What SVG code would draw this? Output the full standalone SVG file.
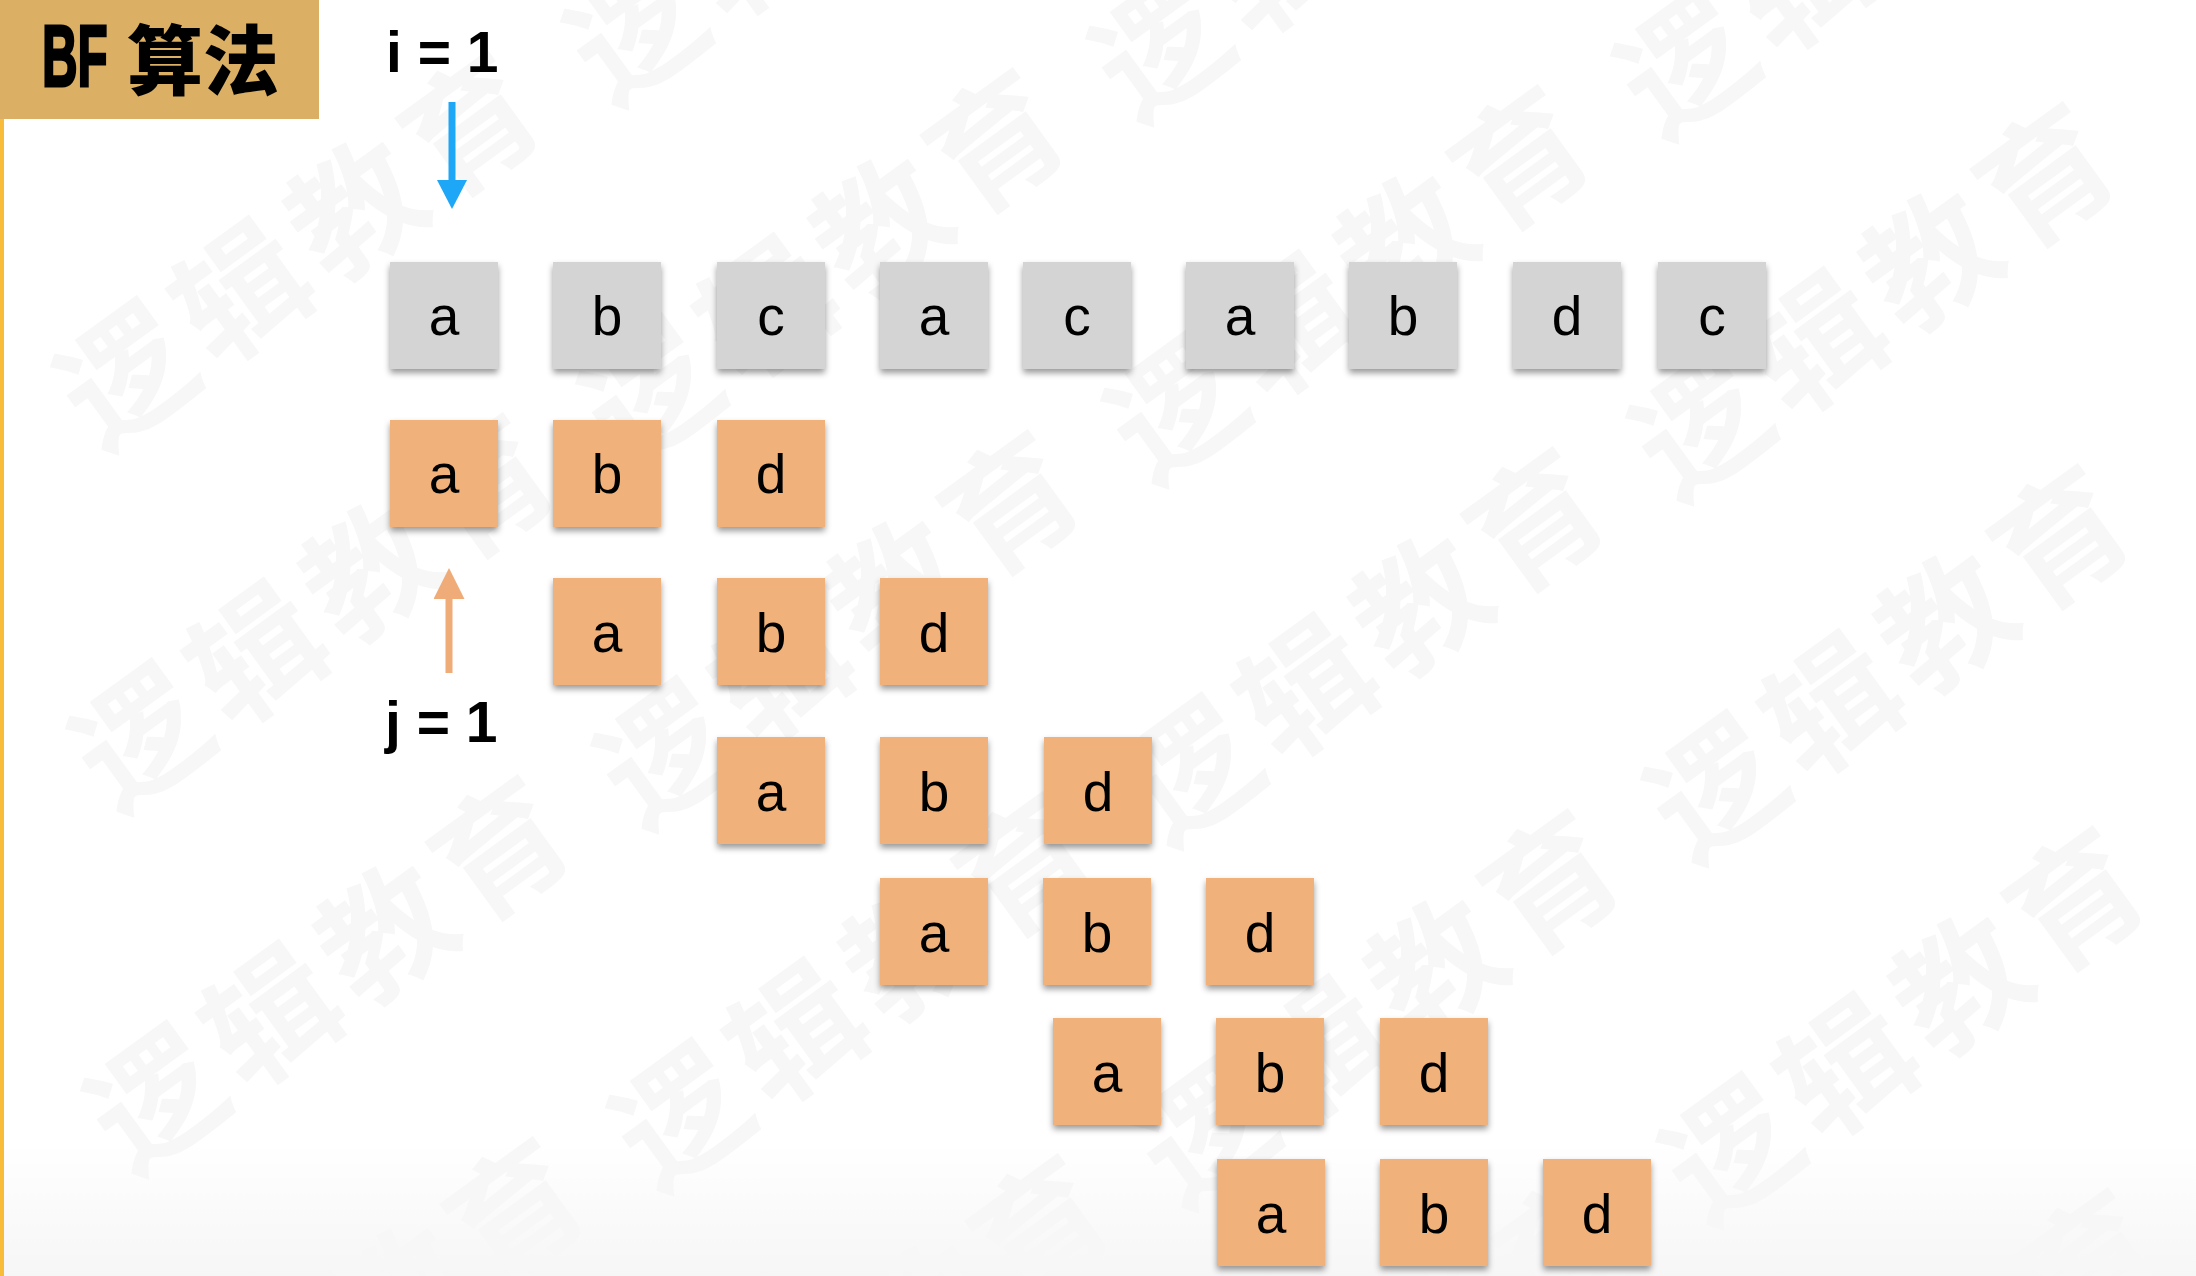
<svg xmlns="http://www.w3.org/2000/svg" width="2196" height="1276" viewBox="0 0 2196 1276">
<style>
.wm{font-family:"Noto Sans CJK SC","Noto Sans CJK JP",sans-serif;font-weight:700;font-size:130px;letter-spacing:12px;fill:#f7f7f7}
.g rect{fill:#d4d4d4;filter:url(#sh)}
.o rect{fill:#f0b27a;filter:url(#sh)}
.n text{font-family:"Liberation Sans",Arial,Helvetica,sans-serif;font-size:55px;fill:#000;text-anchor:middle}
.lbl{font-family:"Liberation Sans",Arial,Helvetica,sans-serif;font-weight:700;font-size:57px;fill:#000}
</style>
<defs>
<filter id="sh" x="-20%" y="-20%" width="140%" height="150%">
<feDropShadow dx="0" dy="4" stdDeviation="3" flood-color="#000" flood-opacity="0.4"/>
</filter>
<linearGradient id="bot" x1="0" y1="0" x2="0" y2="1">
<stop offset="0" stop-color="#000" stop-opacity="0"/>
<stop offset="1" stop-color="#000" stop-opacity="0.035"/>
</linearGradient>
<marker id="hb" markerUnits="userSpaceOnUse" markerWidth="30" markerHeight="30" viewBox="0 0 30 30" refX="1" refY="15" orient="auto">
<path d="M0,0 L29,15 L0,30 z" fill="#1ea6f7"/>
</marker>
<marker id="ho" markerUnits="userSpaceOnUse" markerWidth="32" markerHeight="32" viewBox="0 0 32 32" refX="1" refY="15.5" orient="auto">
<path d="M0,0 L31,15.5 L0,31 z" fill="#efab78"/>
</marker>
</defs>
<rect x="0" y="0" width="2196" height="1276" fill="#fff"/>
<rect x="0" y="1140" width="2196" height="136" fill="url(#bot)"/>
<g id="watermark">
<text class="wm" transform="translate(612,108) rotate(-36)">逻辑教育</text>
<text class="wm" transform="translate(1137,125) rotate(-36)">逻辑教育</text>
<text class="wm" transform="translate(1662,142) rotate(-36)">逻辑教育</text>
<text class="wm" transform="translate(102,453) rotate(-36)">逻辑教育</text>
<text class="wm" transform="translate(627,470) rotate(-36)">逻辑教育</text>
<text class="wm" transform="translate(1152,487) rotate(-36)">逻辑教育</text>
<text class="wm" transform="translate(1677,504) rotate(-36)">逻辑教育</text>
<text class="wm" transform="translate(117,815) rotate(-36)">逻辑教育</text>
<text class="wm" transform="translate(642,832) rotate(-36)">逻辑教育</text>
<text class="wm" transform="translate(1167,849) rotate(-36)">逻辑教育</text>
<text class="wm" transform="translate(1692,866) rotate(-36)">逻辑教育</text>
<text class="wm" transform="translate(132,1177) rotate(-36)">逻辑教育</text>
<text class="wm" transform="translate(657,1194) rotate(-36)">逻辑教育</text>
<text class="wm" transform="translate(1182,1211) rotate(-36)">逻辑教育</text>
<text class="wm" transform="translate(1707,1228) rotate(-36)">逻辑教育</text>
<text class="wm" transform="translate(147,1539) rotate(-36)">逻辑教育</text>
<text class="wm" transform="translate(672,1556) rotate(-36)">逻辑教育</text>
<text class="wm" transform="translate(1197,1573) rotate(-36)">逻辑教育</text>
<text class="wm" transform="translate(1722,1590) rotate(-36)">逻辑教育</text>
</g>
<g id="title">
<rect x="0" y="0" width="319" height="119" fill="#dbb064"/>
<rect x="0" y="119" width="4" height="1157" fill="#f8bb3a"/>
<text transform="translate(42,86) scale(0.56,1)" font-family="Liberation Sans,Arial,sans-serif" font-weight="700" font-size="88" fill="#000" stroke="#000" stroke-width="3">BF</text>
<text x="127" y="89" font-family="Noto Sans CJK SC,sans-serif" font-weight="900" font-size="76" fill="#000">算法</text>
</g>
<g id="label-i"><text class="lbl" x="386" y="72">i = 1</text></g>
<g id="label-j"><text class="lbl" x="385" y="742">j = 1</text></g>
<g id="connectors">
<line x1="452" y1="102" x2="452" y2="181" stroke="#1ea6f7" stroke-width="7" marker-end="url(#hb)"/>
<line x1="449" y1="673" x2="449" y2="598" stroke="#efab78" stroke-width="7" marker-end="url(#ho)"/>
</g>
<g id="text-row">
<g id="t1" class="n g"><rect x="390" y="262" width="108" height="107"/><text x="444" y="335">a</text></g>
<g id="t2" class="n g"><rect x="553" y="262" width="108" height="107"/><text x="607" y="335">b</text></g>
<g id="t3" class="n g"><rect x="717" y="262" width="108" height="107"/><text x="771" y="335">c</text></g>
<g id="t4" class="n g"><rect x="880" y="262" width="108" height="107"/><text x="934" y="335">a</text></g>
<g id="t5" class="n g"><rect x="1023" y="262" width="108" height="107"/><text x="1077" y="335">c</text></g>
<g id="t6" class="n g"><rect x="1186" y="262" width="108" height="107"/><text x="1240" y="335">a</text></g>
<g id="t7" class="n g"><rect x="1349" y="262" width="108" height="107"/><text x="1403" y="335">b</text></g>
<g id="t8" class="n g"><rect x="1513" y="262" width="108" height="107"/><text x="1567" y="335">d</text></g>
<g id="t9" class="n g"><rect x="1658" y="262" width="108" height="107"/><text x="1712" y="335">c</text></g>
</g>
<g id="pattern-rows">
<g id="p1a" class="n o"><rect x="390" y="420" width="108" height="107"/><text x="444" y="493">a</text></g>
<g id="p1b" class="n o"><rect x="553" y="420" width="108" height="107"/><text x="607" y="493">b</text></g>
<g id="p1d" class="n o"><rect x="717" y="420" width="108" height="107"/><text x="771" y="493">d</text></g>

<g id="p2a" class="n o"><rect x="553" y="578" width="108" height="107"/><text x="607" y="652">a</text></g>
<g id="p2b" class="n o"><rect x="717" y="578" width="108" height="107"/><text x="771" y="652">b</text></g>
<g id="p2d" class="n o"><rect x="880" y="578" width="108" height="107"/><text x="934" y="652">d</text></g>

<g id="p3a" class="n o"><rect x="717" y="737" width="108" height="107"/><text x="771" y="811">a</text></g>
<g id="p3b" class="n o"><rect x="880" y="737" width="108" height="107"/><text x="934" y="811">b</text></g>
<g id="p3d" class="n o"><rect x="1044" y="737" width="108" height="107"/><text x="1098" y="811">d</text></g>

<g id="p4a" class="n o"><rect x="880" y="878" width="108" height="107"/><text x="934" y="952">a</text></g>
<g id="p4b" class="n o"><rect x="1043" y="878" width="108" height="107"/><text x="1097" y="952">b</text></g>
<g id="p4d" class="n o"><rect x="1206" y="878" width="108" height="107"/><text x="1260" y="952">d</text></g>

<g id="p5a" class="n o"><rect x="1053" y="1018" width="108" height="107"/><text x="1107" y="1092">a</text></g>
<g id="p5b" class="n o"><rect x="1216" y="1018" width="108" height="107"/><text x="1270" y="1092">b</text></g>
<g id="p5d" class="n o"><rect x="1380" y="1018" width="108" height="107"/><text x="1434" y="1092">d</text></g>

<g id="p6a" class="n o"><rect x="1217" y="1159" width="108" height="107"/><text x="1271" y="1233">a</text></g>
<g id="p6b" class="n o"><rect x="1380" y="1159" width="108" height="107"/><text x="1434" y="1233">b</text></g>
<g id="p6d" class="n o"><rect x="1543" y="1159" width="108" height="107"/><text x="1597" y="1233">d</text></g>
</g>
</svg>
